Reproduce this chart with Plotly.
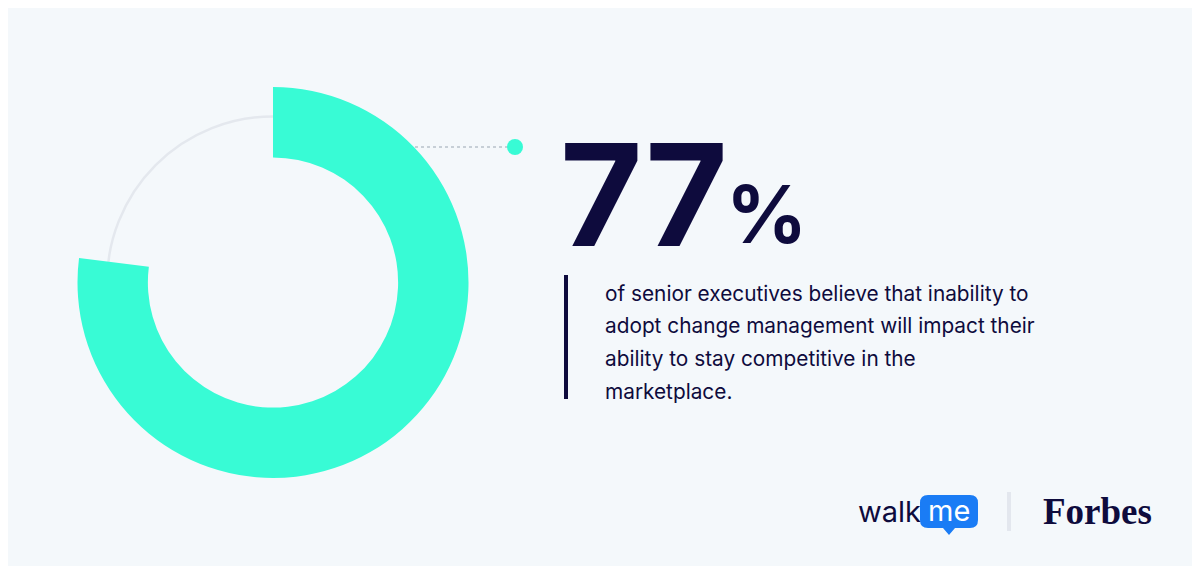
import plotly.graph_objects as go

labels = ["Believe", "Other"]
values = [77, 23]
headline = "77"
body_lines = [
    "of senior executives believe that inability to",
    "adopt change management will impact their",
    "ability to stay competitive in the",
    "marketplace.",
]

W, H = 1200, 566
OFF = 8  # page margin shifts the figure
NAVY = "#0e0b3d"
TEAL = "#38fbd5"


def px(x):
    return (x - OFF) / W


def py(y):
    return 1 - (y - OFF) / H


cx, cy, r = 273, 282.5, 195.5

fig = go.Figure()
fig.add_trace(go.Pie(
    labels=labels, values=values, hole=0.64, sort=False, direction="clockwise",
    rotation=0, marker=dict(colors=[TEAL, "rgba(0,0,0,0)"], line=dict(width=0)),
    textinfo="none", hoverinfo="skip", showlegend=False,
    domain=dict(x=[px(cx - r), px(cx + r)], y=[py(cy + r), py(cy - r)]),
))

shapes = [
    dict(type="circle", xref="paper", yref="paper", layer="below",
         x0=px(cx - 166), x1=px(cx + 166), y0=py(cy + 166), y1=py(cy - 166),
         line=dict(color="#e4e8ee", width=2.5)),
    dict(type="line", xref="paper", yref="paper", x0=px(415), x1=px(512), y0=py(147), y1=py(147),
         line=dict(color="#9aa6b2", width=1, dash="dot")),
    dict(type="circle", xref="paper", yref="paper", x0=px(507), x1=px(523), y0=py(155), y1=py(139),
         fillcolor=TEAL, line=dict(width=0)),
    dict(type="line", xref="paper", yref="paper", x0=px(566), x1=px(566), y0=py(275), y1=py(399),
         line=dict(color=NAVY, width=4)),
    dict(type="line", xref="paper", yref="paper", x0=px(1009), x1=px(1009), y0=py(492), y1=py(531),
         line=dict(color="#e3e7ee", width=4)),
    dict(type="path", xref="paper", yref="paper",
         path=f"M {px(928)} {py(495)} L {px(970)} {py(495)} Q {px(978)} {py(495)} {px(978)} {py(503)} "
              f"L {px(978)} {py(520)} Q {px(978)} {py(528)} {px(970)} {py(528)} L {px(955)} {py(528)} "
              f"L {px(949)} {py(535)} L {px(943)} {py(528)} L {px(928)} {py(528)} "
              f"Q {px(920)} {py(528)} {px(920)} {py(520)} L {px(920)} {py(503)} "
              f"Q {px(920)} {py(495)} {px(928)} {py(495)} Z",
         fillcolor="#1a7cf5", line=dict(width=0)),
]

ann = [
    dict(text="<b>" + headline + "</b>", x=px(558), y=py(194), xanchor="left", yanchor="middle",
         font=dict(family="Inter", size=142, color=NAVY)),
    dict(text="<b>%</b>", x=px(724), y=py(214), xanchor="left", yanchor="middle",
         font=dict(family="Inter", size=80, color=NAVY)),
    dict(text="walk", x=px(856), y=py(511), xanchor="left", yanchor="middle",
         font=dict(family="Inter", size=29, color=NAVY)),
    dict(text="me", x=px(949), y=py(510), xanchor="center", yanchor="middle",
         font=dict(family="Inter", size=29, color="white")),
    dict(text="<b>Forbes</b>", x=px(1041), y=py(511), xanchor="left", yanchor="middle",
         font=dict(family="Liberation Serif", size=37, color=NAVY)),
]
for i, line in enumerate(body_lines):
    ann.append(dict(text=line, x=px(603), y=py(293 + i * 32.7), xanchor="left", yanchor="middle",
                    font=dict(family="Inter", size=20.8, color=NAVY)))
for a in ann:
    a.update(xref="paper", yref="paper", showarrow=False)

fig.update_layout(width=W, height=H, margin=dict(l=0, r=0, t=0, b=0),
                  paper_bgcolor="#f4f8fb", plot_bgcolor="#f4f8fb",
                  shapes=shapes, annotations=ann)
fig.write_html("out.html")
